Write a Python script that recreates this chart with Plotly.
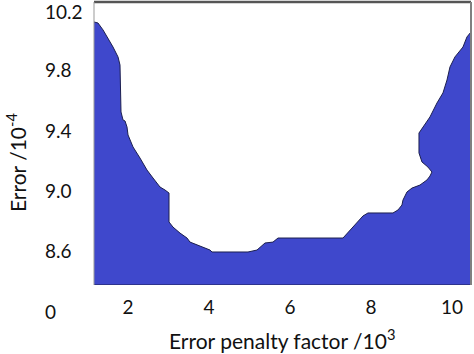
import plotly.graph_objects as go

# Boundary of the feasible (blue) region
x_vals = [1.160, 1.259, 1.383, 1.506, 1.630, 1.753, 1.802, 1.827, 1.877, 1.926, 1.975, 2.000,
          2.123, 2.296, 2.469, 2.617, 2.790, 2.914, 3.012, 3.012, 3.111, 3.284, 3.457, 3.531,
          3.704, 3.852, 4.025, 4.074, 4.963, 5.185, 5.259, 5.383, 5.580, 5.704, 7.309, 7.481,
          7.654, 7.802, 7.926, 8.543, 8.667, 8.765, 8.790, 8.889, 9.012, 9.210, 9.383, 9.457,
          9.506, 9.407, 9.259, 9.185, 9.185, 9.284, 9.457, 9.630, 9.778, 9.877, 9.951, 10.074,
          10.272, 10.370, 10.469]
y_vals = [10.120, 10.113, 10.067, 10.013, 9.953, 9.887, 9.833, 9.520, 9.467, 9.460, 9.420, 9.367,
          9.287, 9.213, 9.133, 9.080, 9.020, 9.000, 8.980, 8.787, 8.753, 8.713, 8.680, 8.653,
          8.633, 8.620, 8.600, 8.587, 8.587, 8.600, 8.620, 8.647, 8.653, 8.680, 8.680, 8.733,
          8.780, 8.827, 8.847, 8.847, 8.867, 8.900, 8.933, 8.987, 9.013, 9.033, 9.067, 9.093,
          9.120, 9.153, 9.187, 9.247, 9.380, 9.420, 9.487, 9.580, 9.647, 9.733, 9.820, 9.887,
          9.953, 10.020, 10.053]

x_range = [1.16, 10.47]
y_range = [8.367, 10.253]

x_ticks = [2, 4, 6, 8, 10]
y_ticks = [8.6, 9.0, 9.4, 9.8, 10.2]
y_tick_text = ["8.6", "9.0", "9.4", "9.8", "10.2"]

FONT = "Lato, 'Open Sans', sans-serif"
TXT = "#111111"
W, H = 474, 354
L, R, T, B = 94, 3, 2, 69
PW, PH = W - L - R, H - T - B

def px_x(px):
    return (px - L) / PW

def px_y(py):
    return (H - B - py) / PH

poly_x = x_vals + [x_range[1], x_range[0]]
poly_y = y_vals + [y_range[0], y_range[0]]

fig = go.Figure()
fig.add_trace(go.Scatter(
    x=poly_x, y=poly_y, mode="lines", fill="toself",
    fillcolor="#3f48cc", line=dict(color="#1c1f4f", width=1),
    hoverinfo="skip", showlegend=False))

annotations = []
for v, t in zip(y_ticks, y_tick_text):
    annotations.append(dict(x=px_x(43), xref="paper", y=v, yref="y", text=t,
                            showarrow=False, xanchor="left", yanchor="middle",
                            yshift=-2 if t == "10.2" else 0,
                            font=dict(family=FONT, size=19, color=TXT)))
annotations.append(dict(x=px_x(43), xref="paper", y=px_y(311), yref="paper", text="0",
                        showarrow=False, xanchor="left", yanchor="middle",
                        font=dict(family=FONT, size=19, color=TXT)))
annotations.append(dict(x=px_x(282), xref="paper", y=px_y(339), yref="paper",
                        text="Error penalty factor /10<sup>3</sup>", showarrow=False,
                        xanchor="center", yanchor="middle",
                        font=dict(family=FONT, size=21, color=TXT)))
annotations.append(dict(x=px_x(16), xref="paper", y=px_y(163), yref="paper",
                        text="Error /10<sup>-4</sup>", showarrow=False, textangle=-90,
                        xanchor="center", yanchor="middle",
                        font=dict(family=FONT, size=21, color=TXT)))

fig.update_layout(
    width=W, height=H,
    margin=dict(l=L, r=R, t=T, b=B),
    paper_bgcolor="white", plot_bgcolor="white",
    xaxis=dict(range=x_range, tickvals=x_ticks, showgrid=False, zeroline=False,
               showline=False, ticks="", ticklabelstandoff=9,
               tickfont=dict(family=FONT, size=19, color=TXT)),
    yaxis=dict(range=y_range, showgrid=False, zeroline=False, showline=False,
               showticklabels=False, ticks=""),
    annotations=annotations,
    shapes=[
        dict(type="line", xref="paper", yref="paper", x0=0, x1=1, y0=1, y1=1,
             line=dict(color="#555555", width=2.5)),
        dict(type="line", xref="paper", yref="paper", x0=1, x1=1, y0=0, y1=1,
             line=dict(color="#808080", width=2)),
        dict(type="line", xref="paper", yref="paper", x0=0, x1=0, y0=0, y1=1,
             line=dict(color="#999999", width=1)),
    ],
    showlegend=False,
)

fig.write_html("out.html")
